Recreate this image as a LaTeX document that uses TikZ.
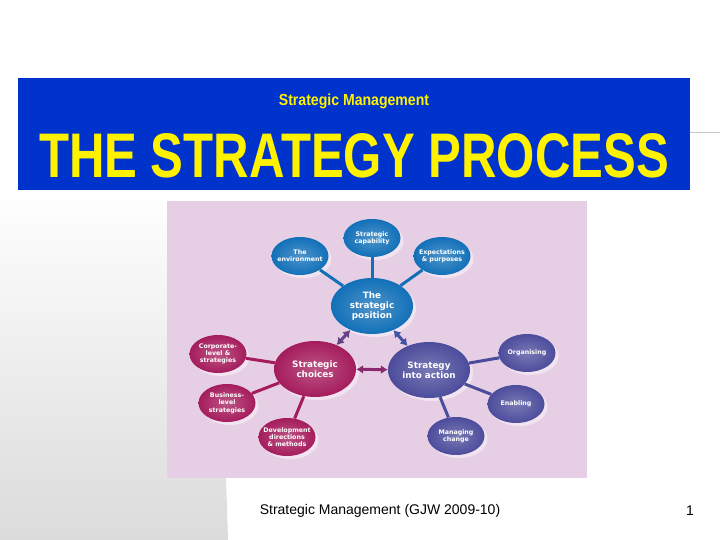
\documentclass[tikz,border=0pt]{standalone}
\usepackage{fontspec}
\setmainfont{Liberation Sans}
\newfontfamily\narrowfont[FakeStretch=0.78]{Liberation Sans}
\newfontfamily\subtfont[FakeStretch=0.88]{Liberation Sans}
\newfontfamily\ballfont{DejaVu Sans}
\usetikzlibrary{shapes.geometric,shadows,arrows.meta}

\definecolor{bannerblue}{RGB}{0,51,204}
\definecolor{panelpink}{RGB}{230,207,229}
\definecolor{posblue}{RGB}{18,112,184}
\definecolor{choicered}{RGB}{165,28,92}
\definecolor{actionblue}{RGB}{76,76,156}

\tikzset{
  bubble/.style={ellipse, inner xsep=-10pt, inner ysep=-6pt,
    minimum width=57pt, minimum height=38pt, text=white, align=center,
    font=\ballfont\bfseries\fontsize{6.3}{7.3}\selectfont,
    drop shadow={shadow xshift=3pt, shadow yshift=-3pt, opacity=.45, fill=white}},
  hub/.style={bubble, minimum width=82pt, minimum height=56pt,
    font=\ballfont\bfseries\fontsize{8.8}{10.2}\selectfont},
  posfill/.style={shading=radial, inner color=posblue!75!white, outer color=posblue},
  choicefill/.style={shading=radial, inner color=choicered!75!white, outer color=choicered},
  actionfill/.style={shading=radial, inner color=actionblue!75!white, outer color=actionblue},
  spoke/.style={line width=3pt},
  twoway/.style={{Latex[length=7pt,width=9pt]}-{Latex[length=7pt,width=9pt]}, line width=3pt},
}

\begin{document}
\begin{tikzpicture}[x=1pt,y=-1pt]
    \useasboundingbox (0,0) rectangle (720,540);
    \fill[white] (0,0) rectangle (720,540);
    % grey slide background on the left
    \shade[top color=white, bottom color=black!14]
        (0,190) -- (152,190) .. controls (185,225) and (222,380) .. (226,478)
        -- (228,540) -- (0,540) -- cycle;
    \draw[black!22, line width=1pt] (690,133) -- (720,133);
    % banner
    \fill[bannerblue] (18,78) rectangle (690,190);
    \node[text=yellow, font=\subtfont\bfseries\fontsize{16}{18}\selectfont] (subtitle) at (354,101) {Strategic Management};
    \node[text=yellow, font=\narrowfont\bfseries\fontsize{63}{63}\selectfont] (title) at (354,156) {THE STRATEGY PROCESS};
    % diagram panel
    \fill[panelpink] (167,201) rectangle (587,478);

    % the three hubs
    \node[hub, posfill] (position) at (372,306) {The\\strategic\\position};
    \node[hub, choicefill] (choices) at (315,369) {Strategic\\choices};
    \node[hub, actionfill] (action) at (429,370) {Strategy\\into action};

    % strategic position
    \node[bubble, posfill] (environment) at (300,256) {The\\environment};
    \node[bubble, posfill] (capability) at (372,238) {Strategic\\capability};
    \node[bubble, posfill] (expectations) at (442,256) {Expectations\\\& purposes};
    \foreach \leaf in {environment,capability,expectations}
    \draw[spoke, posblue] (position) -- (\leaf);

    % strategic choices
    \node[bubble, choicefill] (corporate) at (218,354) {Corporate-\\level \&\\strategies};
    \node[bubble, choicefill] (business) at (227,403) {Business-\\level\\strategies};
    \node[bubble, choicefill] (development) at (287,437) {Development\\directions\\\& methods};
    \foreach \leaf in {corporate,business,development}
    \draw[spoke, choicered] (choices) -- (\leaf);

    % strategy into action
    \node[bubble, actionfill] (organising) at (527,353) {Organising};
    \node[bubble, actionfill] (enabling) at (516,404) {Enabling};
    \node[bubble, actionfill] (managing) at (456,436) {Managing\\change};
    \foreach \leaf in {organising,enabling,managing}
    \draw[spoke, actionblue] (action) -- (\leaf);

    % links between the hubs
    \draw[twoway, choicered!55!posblue] (position) -- (choices);
    \draw[twoway, actionblue!80!posblue] (position) -- (action);
    \draw[twoway, choicered!70!actionblue] (choices) -- (action);

    % footer
    \node[font=\fontsize{14}{16}\selectfont] (footer) at (380,511) {Strategic Management (GJW 2009-10)};
    \node[font=\fontsize{14}{16}\selectfont] (pagenum) at (690,511) {1};
\end{tikzpicture}
\end{document}
